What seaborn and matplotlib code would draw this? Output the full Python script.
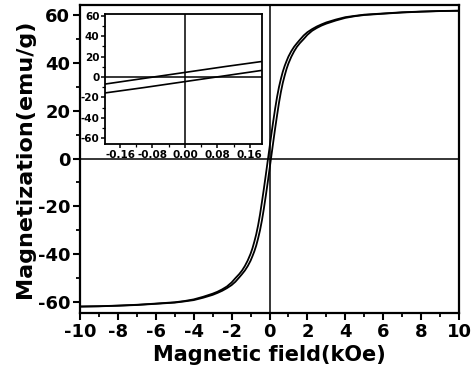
import matplotlib
matplotlib.use("Agg")
import matplotlib.pyplot as plt
import seaborn as sns
import numpy as np
import pandas as pd
from matplotlib.ticker import MultipleLocator

# Descending-field branch (upper branch)
H_desc = [10, 9, 8, 7, 6, 5, 4.5, 4, 3.5, 3, 2.75, 2.5, 2.25, 2, 1.8, 1.6, 1.45, 1.3, 1.15, 1.0,
          0.9, 0.8, 0.7, 0.6, 0.5, 0.4, 0.3, 0.2, 0.1, 0, -0.1, -0.2, -0.3, -0.4, -0.5, -0.6,
          -0.7, -0.8, -0.9, -1.0, -1.15, -1.3, -1.45, -1.6, -1.8, -2.0, -2.25, -2.5, -2.75,
          -3, -3.5, -4, -4.5, -5, -6, -7, -8, -9, -10]
M_desc = [62.0, 61.9, 61.65, 61.35, 60.85, 60.35, 59.85, 59.3, 58.3, 57.1, 56.3, 55.4, 54.3,
          53.0, 51.6, 49.8, 48.4, 46.9, 45.05, 42.8, 40.9, 38.85, 36.4, 33.4, 30.0, 25.9, 21.1,
          15.8, 10.3, 4.5, -1.3, -7.1, -12.8, -18.2, -23.4, -27.9, -31.7, -34.8, -37.6, -39.9,
          -42.7, -45.0, -46.9, -48.4, -50.1, -51.9, -53.6, -54.8, -55.8, -56.6, -57.9, -59.0,
          -59.7, -60.2, -60.75, -61.25, -61.6, -61.85, -62.0]

# Ascending-field branch (lower branch)
H_asc = [-10, -9, -8, -7, -6, -5, -4.5, -4, -3.5, -3, -2.75, -2.5, -2.25, -2, -1.8, -1.6, -1.45,
         -1.3, -1.15, -1.0, -0.9, -0.8, -0.7, -0.6, -0.5, -0.4, -0.3, -0.2, -0.1, 0, 0.1, 0.2,
         0.3, 0.4, 0.5, 0.6, 0.7, 0.8, 0.9, 1.0, 1.15, 1.3, 1.45, 1.6, 1.8, 2.0, 2.25, 2.5,
         2.75, 3, 3.5, 4, 4.5, 5, 6, 7, 8, 9, 10]
M_asc = [-62.0, -61.9, -61.65, -61.35, -60.85, -60.35, -59.85, -59.3, -58.3, -57.1, -56.3, -55.4,
         -54.3, -53.0, -51.6, -49.8, -48.4, -46.9, -45.05, -42.8, -40.9, -38.85, -36.4, -33.4,
         -30.0, -25.9, -21.1, -15.8, -10.3, -4.5, 1.3, 7.1, 12.8, 18.2, 23.4, 27.9, 31.7, 34.8,
         37.6, 39.9, 42.7, 45.0, 46.9, 48.4, 50.1, 51.9, 53.6, 54.8, 55.8, 56.6, 57.9, 59.0,
         59.7, 60.2, 60.75, 61.25, 61.6, 61.85, 62.0]

x_ticks = [-10, -8, -6, -4, -2, 0, 2, 4, 6, 8, 10]
y_ticks = [-60, -40, -20, 0, 20, 40, 60]
inset_x_ticks = [-0.16, -0.08, 0.00, 0.08, 0.16]
inset_x_labels = ["-0.16", "-0.08", "0.00", "0.08", "0.16"]
inset_y_ticks = [-60, -40, -20, 0, 20, 40, 60]

sns.set_theme(style="ticks")
plt.rcParams["font.family"] = ["DejaVu Sans"]
plt.rcParams["font.weight"] = "bold"
plt.rcParams["axes.unicode_minus"] = False
plt.rcParams["text.color"] = "black"
plt.rcParams["axes.labelcolor"] = "black"

fig = plt.figure(figsize=(4.74, 3.76), dpi=100)
ax = fig.add_axes([80 / 474, 1 - 313 / 376, 379 / 474, 308 / 376])

df_d = pd.DataFrame({"H": H_desc, "M": M_desc})
df_a = pd.DataFrame({"H": H_asc, "M": M_asc})

def draw(a, lw):
    sns.lineplot(data=df_d, x="H", y="M", sort=False, estimator=None, color="black", lw=lw, ax=a)
    sns.lineplot(data=df_a, x="H", y="M", sort=False, estimator=None, color="black", lw=lw, ax=a)
    a.axhline(0, color="black", lw=1.1, zorder=1)
    a.axvline(0, color="black", lw=1.1, zorder=1)

draw(ax, 1.3)
ax.set_xlim(-10, 10)
ax.set_ylim(-64.7, 64.4)
ax.set_xticks(x_ticks)
ax.set_xticklabels([str(t) for t in x_ticks])
ax.set_yticks(y_ticks)
ax.set_yticklabels([str(t) for t in y_ticks])
ax.xaxis.set_minor_locator(MultipleLocator(1))
ax.yaxis.set_minor_locator(MultipleLocator(10))
ax.tick_params(which="major", direction="out", length=5, width=1.5, labelsize=13, pad=2,
               colors="black")
ax.tick_params(which="minor", direction="out", length=3, width=1.3, colors="black")
for s in ax.spines.values():
    s.set_linewidth(1.6)
    s.set_color("black")
ax.set_xlabel("Magnetic field(kOe)", fontsize=15, fontweight="bold", labelpad=3, color="black")
ax.set_ylabel("Magnetization(emu/g)", fontsize=16, fontweight="bold", labelpad=2, color="black")

# Inset
ins = fig.add_axes([105 / 474, 1 - 144 / 376, 157 / 474, 130 / 376])
ins.set_facecolor("white")
draw(ins, 1.2)
ins.set_xlim(-0.197, 0.19)
ins.set_ylim(-65.7, 61.8)
ins.set_xticks(inset_x_ticks)
ins.set_xticklabels(inset_x_labels)
ins.set_yticks(inset_y_ticks)
ins.set_yticklabels([str(t) for t in inset_y_ticks])
ins.xaxis.set_minor_locator(MultipleLocator(0.04))
ins.yaxis.set_minor_locator(MultipleLocator(10))
ins.tick_params(which="major", direction="out", length=3, width=1.1, labelsize=7.5, pad=1,
                colors="black")
ins.tick_params(which="minor", direction="out", length=2, width=0.9, colors="black")
ins.set_xlabel("")
ins.set_ylabel("")
for s in ins.spines.values():
    s.set_linewidth(1.3)
    s.set_color("black")
for lab in ins.get_yticklabels():
    lab.set_clip_box(ax.bbox)
    lab.set_clip_on(True)

fig.savefig("out.png", dpi=100)
